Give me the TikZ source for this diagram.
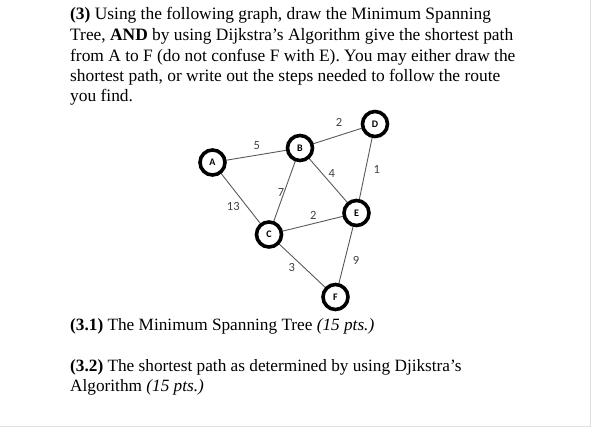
\documentclass[tikz,border=0pt]{standalone}
\usepackage{fontspec}
\setmainfont{Liberation Serif}
\newfontfamily\labfont{Carlito}
\begin{document}
\begin{tikzpicture}[x=1pt,y=-1pt,
  vert/.style={circle,draw=black,line width=3.6pt,fill=white,minimum size=25pt,inner sep=0pt,font=\labfont\bfseries\fontsize{10}{10}\selectfont},
  edge/.style={draw=black!65,line width=0.9pt},
  wt/.style={text=black!75,font=\labfont\fontsize{12.5}{12.5}\selectfont,inner sep=0pt},
  txt/.style={anchor=base west,inner sep=0pt,font=\fontsize{17.4}{20}\selectfont},
  txtb/.style={anchor=base west,inner sep=0pt,font=\fontsize{17.25}{20}\selectfont}]
\useasboundingbox (0,0) rectangle (591,428);
\draw[black!12,line width=1pt] (590.5,0) -- (590.5,426.5) coordinate (corner) -- (0,426.5);
% text
\node[txt] (l1) at (70,20) {\textbf{(3)} Using the following graph, draw the Minimum Spanning};
\node[txt] (l2) at (70,40.7) {Tree, \textbf{AND} by using Dijkstra’s Algorithm give the shortest path};
\node[txt] (l3) at (70,61.3) {from A to F (do not confuse F with E). You may either draw the};
\node[txt] (l4) at (70,81.7) {shortest path, or write out the steps needed to follow the route};
\node[txt] (l5) at (70,101.7) {you find.};
\node[txtb] (q1) at (70,330.7) {\textbf{(3.1)} The Minimum Spanning Tree \textit{(15 pts.)}};
\node[txtb] (q2) at (70,371.7) {\textbf{(3.2)} The shortest path as determined by using Djikstra’s};
\node[txtb] (q3) at (70,391) {Algorithm \textit{(15 pts.)}};
% graph
\coordinate (pA) at (212.5,162.5);
\coordinate (pB) at (300,148);
\coordinate (pD) at (375,124);
\coordinate (pE) at (356.5,213);
\coordinate (pC) at (269,234.5);
\coordinate (pF) at (335.5,297);
\draw[edge] (pA) -- (pB);
\draw[edge] (pB) -- (pD);
\draw[edge] (pB) -- (pE);
\draw[edge] (pD) -- (pE);
\draw[edge] (pB) -- (pC);
\draw[edge] (pA) -- (pC);
\draw[edge] (pC) -- (pE);
\draw[edge] (pC) -- (pF);
\draw[edge] (pE) -- (pF);
\node[vert] (A) at (pA) {A};
\node[vert] (B) at (pB) {B};
\node[vert] (D) at (pD) {D};
\node[vert] (E) at (pE) {E};
\node[vert] (C) at (pC) {C};
\node[vert] (F) at (pF) {F};
\node[wt] (w1) at (256.7,145.5) {5};
\node[wt] (w2) at (339,122) {2};
\node[wt] (w3) at (331.7,173.5) {4};
\node[wt] (w4) at (376.7,169) {1};
\node[wt] (w5) at (281,192.5) {7};
\node[wt] (w6) at (233.3,206) {13};
\node[wt] (w7) at (313.3,215) {2};
\node[wt] (w8) at (291.7,267.3) {3};
\node[wt] (w9) at (356,260.7) {9};
\end{tikzpicture}
\end{document}
